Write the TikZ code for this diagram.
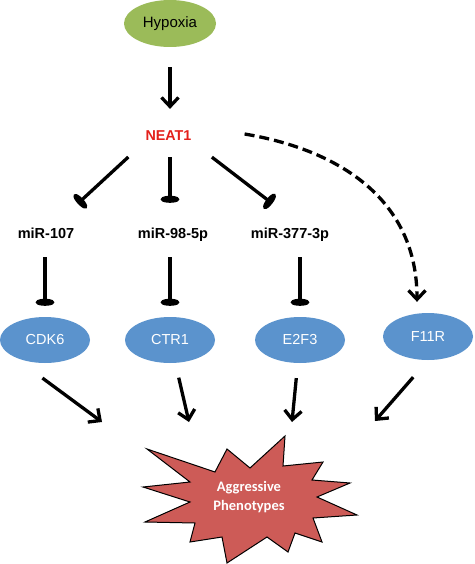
\documentclass[tikz,border=0pt]{standalone}
\usepackage{fontspec}
\setmainfont{Liberation Sans}
\newfontfamily\calibri{Carlito}
\usepackage{tikz}
\usetikzlibrary{arrows.meta,shapes.geometric}
\definecolor{hypgreen}{HTML}{9BBB59}
\definecolor{genblue}{HTML}{5B93CD}
\definecolor{starred}{HTML}{CD5B57}
\definecolor{neatred}{HTML}{E3201B}

\begin{document}
\begin{tikzpicture}
	[x=1pt,y=-1pt,
	gene/.style={ellipse,fill=genblue,text=white,minimum width=90pt,minimum height=46pt,inner sep=0pt,font=\fontsize{14.5}{17}\selectfont},
	mirna/.style={font=\fontsize{14.5}{17}\selectfont\bfseries,text height=10.5pt,text depth=3pt,inner sep=2pt},
	act/.style={line width=3.3pt,-{Straight Barb[length=9pt,width=17pt]}},
	inh/.style={line width=3.3pt,-{Ellipse[length=7pt,width=18pt]}}]
	\useasboundingbox (0,0) rectangle (474,564);
	\node[ellipse,fill=hypgreen,minimum width=92pt,minimum height=47pt,inner sep=0pt,font=\fontsize{15}{18}\selectfont] (hyp) at (170,23.5) {Hypoxia};
	\node[text=neatred,font=\fontsize{14.3}{17}\selectfont\bfseries,inner sep=2pt] (neat) at (168.5,136) {NEAT1};
	
	\node[mirna] (m107) at (46,234.5) {miR-107};
	\node[mirna] (m98) at (173,234.5) {miR-98-5p};
	\node[mirna] (m377) at (290,234.5) {miR-377-3p};
	
	\node[gene] (cdk6) at (45,340) {CDK6};
	\node[gene] (ctr1) at (170,340) {CTR1};
	\node[gene] (e2f3) at (300,340) {E2F3};
	\node[gene,minimum height=47pt] (f11r) at (428,336.5) {F11R};
	
	% starburst
	\draw[fill=starred,line width=1pt,line join=miter]
		(147,449) -- (215,472) -- (227,449) -- (250,468) -- (285,436) -- (283,466)
		-- (323,462) -- (312,480) -- (350,483) -- (317,497) -- (357,515) -- (313,518)
		-- (322,542) -- (295,533) -- (288,552) -- (267,537) -- (227,563) -- (222,537)
		-- (190,542) -- (195,523) -- (145,522) -- (190,502) -- (143,487) -- (190,482) -- cycle;
	\node[text=white,font=\calibri\fontsize{14.5}{19}\selectfont\bfseries,align=center] (agg) at (249,497) {Aggressive\\Phenotypes};
	\coordinate (in1) at (102,422);
	\coordinate (in2) at (189,422);
	\coordinate (in3) at (292,422);
	\coordinate (in4) at (375,421);
	
	\draw[act,shorten <=20pt,shorten >=20pt] (hyp.south) -- (hyp.south |- neat.north);
	\draw[inh,shorten <=20.5pt,shorten >=32.3pt] (neat.south west) -- ([xshift=8pt]m107.north);
	\draw[inh,shorten <=14pt,shorten >=22.75pt] (ctr1.north |- neat.south) -- (ctr1.north |- m98.north);
	\draw[inh,shorten <=23pt,shorten >=36.2pt] (neat.south east) -- ([xshift=11pt]m377.north);
	\foreach \mir/\gen in {m107/cdk6,m98/ctr1,m377/e2f3}
	\draw[inh,shorten <=13.75pt,shorten >=11pt] (\gen.north |- \mir.south) -- (\gen.north);
	\draw[act,dash pattern=on 10pt off 5pt,shorten >=11pt] ([xshift=51pt,yshift=2pt]neat.east) .. controls (340,150) and (417,200) .. ([xshift=-11pt]f11r.north);
	
	\draw[act,shorten <=36.5pt] (cdk6.south west) -- (in1);
	\draw[act,shorten <=15pt] (ctr1) -- (in2);
	\draw[act,shorten <=15pt] (e2f3) -- (in3);
	\draw[act,shorten <=22.5pt] (f11r.south) -- (in4);
\end{tikzpicture}
\end{document}
